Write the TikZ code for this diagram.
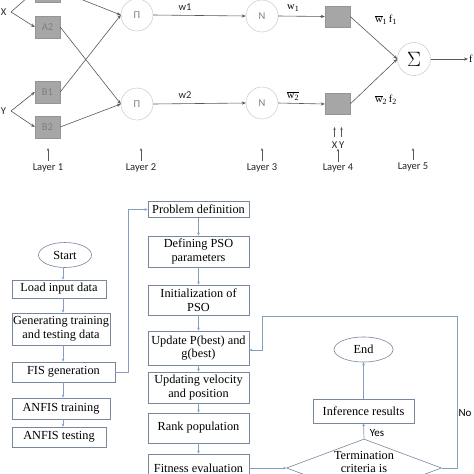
\documentclass[tikz,border=0pt]{standalone}
\usepackage{fontspec}
\setmainfont{Liberation Serif}
\newfontfamily\carl{Carlito}
\usetikzlibrary{arrows.meta,shapes.geometric}
\definecolor{boxgray}{HTML}{A6A6A6}
\definecolor{boxedge}{HTML}{959595}
\definecolor{txtgray}{HTML}{7F7F7F}
\definecolor{circedge}{HTML}{BFBFBF}
\definecolor{linegray}{HTML}{595959}
\definecolor{flowline}{RGB}{131,160,196}
\definecolor{flowedge}{RGB}{120,135,158}
\tikzset{
  gbox/.style={rectangle,fill=boxgray,draw=boxedge,minimum width=25pt,minimum height=22pt,inner sep=0pt,text=txtgray,font=\carl\fontsize{10.5}{12}\selectfont},
  lcirc/.style={circle,draw=circedge,fill=white,minimum size=32pt,inner sep=0pt,text=txtgray,font=\carl\fontsize{10.5}{12}\selectfont},
  lab/.style={inner sep=0pt,font=\carl\fontsize{10.5}{12}\selectfont,text=black!85},
  slab/.style={inner sep=0pt,font=\fontsize{10.5}{12}\selectfont},
  conn/.style={draw=linegray,line width=0.6pt,-{Stealth[length=4pt,width=3.2pt]}},
  small/.style={-{Stealth[length=3pt,width=2.4pt]},line width=0.5pt},
  fbox/.style={rectangle,draw=flowedge,fill=white,line width=0.6pt,align=center,inner sep=1pt,font=\fontsize{12.3}{13.5}\selectfont},
  fell/.style={ellipse,draw=flowedge,fill=white,line width=0.6pt,inner sep=0pt,font=\fontsize{12.3}{13.5}\selectfont},
  fconn/.style={draw=flowline,line width=0.7pt,-{Stealth[length=3pt,width=2.6pt]}},
  flab/.style={inner sep=0pt,font=\carl\fontsize{11}{13}\selectfont},
}
\begin{document}
\begin{tikzpicture}[x=1pt,y=-1pt]
\useasboundingbox (0,0) rectangle (474,474);
\clip (0,0) rectangle (474,474);
\fill[white] (0,0) rectangle (474,474);
% ---------------- ANFIS structure ----------------
\node[gbox] (A1) at (47.5,-9) {};
\node[gbox] (A2) at (47.5,27) {A2};
\node[gbox] (B1) at (47.5,92) {B1};
\node[gbox] (B2) at (47.5,127) {B2};
\node[lab] (X) at (3.5,12) {X};
\node[lab] (Y) at (3.5,111) {Y};
\coordinate (xv) at (11,12);
\coordinate (yv) at (11,111);
\draw[conn] (xv) -- (A1.west);
\draw[conn] (xv) -- (A2.west);
\draw[conn] (yv) -- (B1.west);
\draw[conn] (yv) -- (B2.west);
\node[lcirc] (P1) at (137,15) {Π};
\node[lcirc] (P2) at (137,104) {Π};
\draw[conn] (A1.east) -- (P1.west);
\draw[conn] (B1.east) -- (P1.west);
\draw[conn] (A2.east) -- (P2.west);
\draw[conn] (B2.east) -- (P2.west);
\node[lcirc] (N1) at (262,16) {N};
\node[lcirc] (N2) at (262,103) {N};
\draw[conn] (P1.east) -- (N1.west);
\draw[conn] (P2.east) -- (N2.west);
\node[lab] (w1) at (185,7) {w1};
\node[lab] (w2) at (185,95) {w2};
\node[gbox,minimum height=21pt] (R1) at (337.5,16.5) {};
\node[gbox,minimum height=21pt] (R2) at (337.5,104) {};
\draw[conn] (N1.east) -- (R1.west);
\draw[conn] (N2.east) -- (R2.west);
\node[slab] (nw1) at (293,8) {w\raisebox{-0.35ex}{\fontsize{8}{9}\selectfont 1}};
\node[slab] (nw2) at (293,96) {$\overline{\mbox{w}_{\mbox{\fontsize{8}{9}\selectfont 2}}}$};
\node[circle,draw=circedge,fill=white,minimum size=33pt,inner sep=0pt] (S) at (414,59) {\fontsize{22}{24}\selectfont$\Sigma$};
\draw[conn] (R1.east) -- (S.west);
\draw[conn] (R2.east) -- (S.west);
\coordinate (fo) at (468,59);
\draw[conn] (S.east) -- (fo);
\node[slab,anchor=west] (f) at (469,59) {f};
\node[slab] (wf1) at (386,20) {$\overline{\mbox{w}}_{\mbox{\fontsize{8}{9}\selectfont 1}}\,\mbox{f}_{\mbox{\fontsize{8}{9}\selectfont 1}}$};
\node[slab] (wf2) at (386,100) {$\overline{\mbox{w}}_{\mbox{\fontsize{8}{9}\selectfont 2}}\,\mbox{f}_{\mbox{\fontsize{8}{9}\selectfont 2}}$};
% layer labels
\node[lab] (L1) at (48,168) {Layer 1};
\node[lab] (L2) at (141,168) {Layer 2};
\node[lab] (L3) at (262,168) {Layer 3};
\node[lab] (L4) at (338,168) {Layer 4};
\node[lab] (L5) at (413,167) {Layer 5};
\coordinate (l1) at (48,148);
\coordinate (l2) at (141,148);
\coordinate (l3) at (262,148);
\coordinate (l5) at (413,148);
\draw[conn,small] (L1.north)++(0,-3) -- (l1);
\draw[conn,small] (L2.north)++(0,-3) -- (l2);
\draw[conn,small] (L3.north)++(0,-3) -- (l3);
\draw[conn,small] (L5.north)++(0,-3) -- (l5);
\node[lab] (XY) at (338,145) {X\,Y};
\coordinate (xa) at (334.5,127);
\coordinate (ya) at (341.5,127);
\coordinate (xb) at (334.5,137);
\coordinate (yb) at (341.5,137);
\draw[conn,small] (xb) -- (xa);
\draw[conn,small] (yb) -- (ya);
\draw[conn,small] (L4.north)++(0,-2) -- (XY.south);
% ---------------- Flowchart ----------------
\coordinate (lx) at (63,0);
\node[fell,minimum width=53pt,minimum height=25pt] (start) at (65,255) {Start};
\node[fbox,minimum width=94pt,minimum height=18pt] (load) at (59,289) {Load input data};
\node[fbox,minimum width=98pt,minimum height=32pt] (gen) at (61,329) {Generating training\\and testing data};
\node[fbox,minimum width=103pt,minimum height=20pt] (fis) at (63.5,372) {FIS generation};
\node[fbox,minimum width=98pt,minimum height=21pt] (atr) at (61,408.5) {ANFIS training};
\node[fbox,minimum width=94pt,minimum height=20pt] (ate) at (59,437) {ANFIS testing};
\draw[fconn] (lx|-start.south) -- (lx|-load.north);
\draw[fconn] (lx|-load.south) -- (lx|-gen.north);
\draw[fconn] (lx|-gen.south) -- (lx|-fis.north);
\draw[fconn] (lx|-fis.south) -- (lx|-atr.north);
\draw[fconn] (lx|-atr.south) -- (lx|-ate.north);
\node[fbox,minimum width=101pt,minimum height=16pt] (prob) at (198.5,209.5) {Problem definition};
\node[fbox,minimum width=101pt,minimum height=31pt] (def) at (198.5,251.5) {Defining PSO\\parameters};
\node[fbox,minimum width=101pt,minimum height=30pt] (init) at (198.5,300) {Initialization of\\PSO};
\node[fbox,minimum width=101pt,minimum height=34pt] (upd) at (198.5,348) {Update P(best) and\\g(best)};
\node[fbox,minimum width=101pt,minimum height=31pt] (vel) at (198.5,387.5) {Updating velocity\\and position};
\node[fbox,minimum width=101pt,minimum height=30pt] (rank) at (198.5,428) {Rank population};
\node[fbox,minimum width=101pt,minimum height=28pt] (fit) at (198.5,468) {Fitness evaluation};
\coordinate (c1) at (128,372);
\draw[fconn] (fis.east) -- (c1) |- (prob.west);
\draw[fconn] (prob) -- (prob|-def.north);
\draw[fconn] (def) -- (def|-init.north);
\draw[fconn] (init) -- (init|-upd.north);
\draw[fconn] (upd) -- (upd|-vel.north);
\draw[fconn] (vel) -- (vel|-rank.north);
\draw[fconn] (rank) -- (rank|-fit.north);
\node[diamond,draw=flowedge,fill=white,line width=0.6pt,minimum width=155pt,minimum height=58pt,inner sep=0pt] (D) at (364,468) {};
\node[inner sep=0pt,align=center,font=\fontsize{12.3}{13}\selectfont] (Dt) at (364,461.5) {Termination\\criteria is};
\draw[fconn] (fit.east) -- (D.west);
\node[fbox,minimum width=101pt,minimum height=24pt] (inf) at (363.5,411) {Inference results};
\node[fell,minimum width=59pt,minimum height=25pt] (end) at (363.5,349.5) {End};
\draw[fconn] (D.north) -- (inf.south);
\draw[fconn] (inf.north) -- (end.south);
\node[flab] (yes) at (377,433) {Yes};
\coordinate (n1) at (457,316);
\coordinate (n2) at (262,316);
\draw[fconn] (D.east) -| (n1) -- (n2) |- ([yshift=-2pt]upd.east);
\node[flab] (no) at (465,413) {No};
\end{tikzpicture}
\end{document}
